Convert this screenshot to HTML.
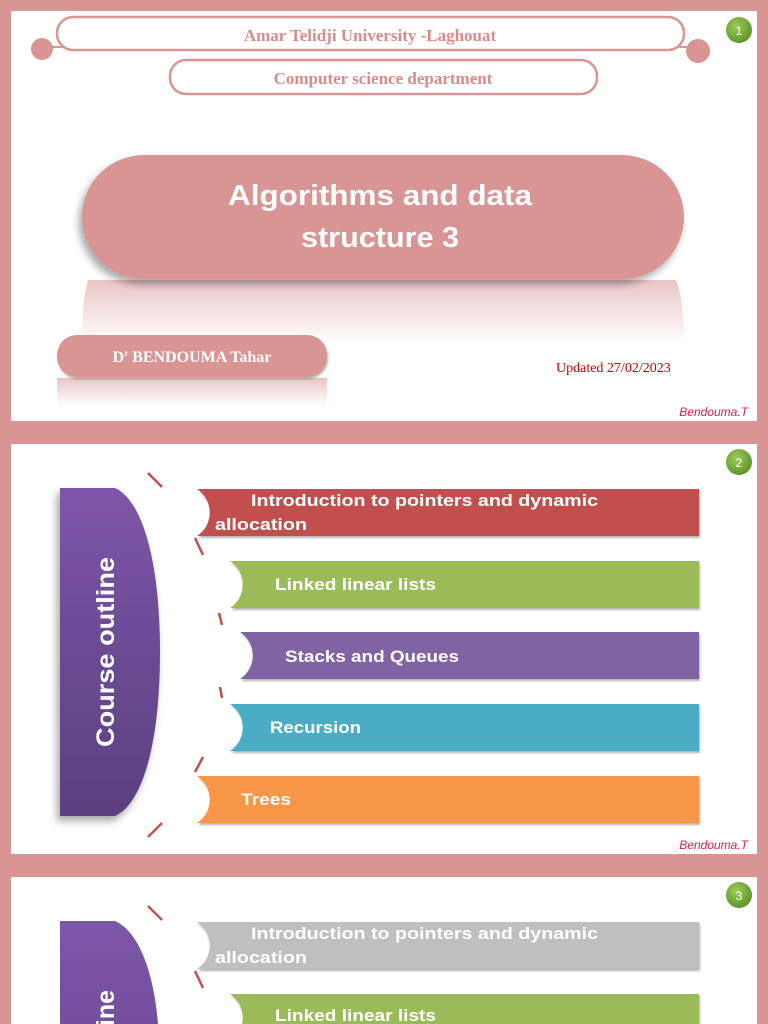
<!DOCTYPE html>
<html><head><meta charset="utf-8"><style>
html,body{margin:0;padding:0;background:#d99594;width:768px;height:1024px;overflow:hidden;}
svg{display:block}
</style></head><body>
<svg width="768" height="1024" viewBox="0 0 768 1024" xmlns="http://www.w3.org/2000/svg">
<defs>
<linearGradient id="pur" x1="0" y1="0" x2="0" y2="1"><stop offset="0" stop-color="#7c56a8"/><stop offset="1" stop-color="#5c3f80"/></linearGradient>
<linearGradient id="pur3" x1="0" y1="0" x2="0" y2="1"><stop offset="0" stop-color="#7c56a8"/><stop offset="1" stop-color="#744f9e"/></linearGradient>
<radialGradient id="grn" cx="0.4" cy="0.35" r="0.7"><stop offset="0" stop-color="#9ccc5a"/><stop offset="1" stop-color="#5a9128"/></radialGradient>
<linearGradient id="refl" x1="0" y1="0" x2="0" y2="1"><stop offset="0" stop-color="#d99494" stop-opacity="0.55"/><stop offset="1" stop-color="#d99494" stop-opacity="0"/></linearGradient>
<filter id="sh" x="-10%" y="-10%" width="130%" height="140%"><feDropShadow dx="-3" dy="5" stdDeviation="4" flood-color="#000" flood-opacity="0.35"/></filter>
<filter id="sh2" x="-5%" y="-10%" width="120%" height="140%"><feDropShadow dx="1" dy="2" stdDeviation="1" flood-color="#000" flood-opacity="0.3"/></filter>
</defs>
<!-- slide 1 -->
<rect x="11" y="11" width="746" height="410" fill="#fff"/>
<circle cx="42" cy="49" r="11" fill="#d99594"/>
<circle cx="698" cy="51" r="12" fill="#d99594"/>
<line x1="50" y1="47" x2="692" y2="47" stroke="#d99594" stroke-width="2"/>
<rect x="57" y="17" width="627" height="33" rx="16" fill="#fff" stroke="#d99594" stroke-width="2.5"/>
<text x="370" y="41" text-anchor="middle" font-family="Liberation Serif, serif" font-weight="bold" font-size="17" fill="#d98b8b">Amar Telidji University -Laghouat</text>
<rect x="170" y="60" width="427" height="34" rx="16" fill="#fff" stroke="#d99594" stroke-width="2.5"/>
<text x="383" y="84" text-anchor="middle" font-family="Liberation Serif, serif" font-weight="bold" font-size="17" fill="#d98b8b">Computer science department</text>
<circle cx="739" cy="30" r="13" fill="url(#grn)"/>
<text x="739" y="35" text-anchor="middle" font-family="Liberation Sans, sans-serif" font-size="12" fill="#fff">1</text>

<path d="M88,280 L676,280 Q684,300 684,345 L82,345 Q82,300 88,280Z" fill="url(#refl)"/>
<rect x="82" y="155" width="602" height="124" rx="62" fill="#d99494" filter="url(#sh)"/>
<text x="380" y="205" text-anchor="middle" font-family="Liberation Sans, sans-serif" font-weight="bold" font-size="29" fill="#fff" textLength="304" lengthAdjust="spacingAndGlyphs">Algorithms and  data</text>
<text x="380" y="247" text-anchor="middle" font-family="Liberation Sans, sans-serif" font-weight="bold" font-size="29" fill="#fff" textLength="158" lengthAdjust="spacingAndGlyphs">structure 3</text>

<rect x="57" y="378" width="270" height="28" fill="url(#refl)"/>
<rect x="57" y="335" width="270" height="42" rx="20" fill="#d99494" filter="url(#sh2)"/>
<text x="192" y="362" text-anchor="middle" font-family="Liberation Serif, serif" font-weight="bold" font-size="16" fill="#fff">D<tspan font-size="9" dy="-6">r</tspan><tspan dy="6"> BENDOUMA Tahar</tspan></text>
<text x="556" y="372" font-family="Liberation Serif, serif" font-size="14" fill="#cc0000">Updated 27/02/2023</text>
<text x="748" y="416" text-anchor="end" font-family="Liberation Sans, sans-serif" font-style="italic" font-size="12" fill="#d6204f">Bendouma.T</text>

<!-- slide 2 -->
<rect x="11" y="444" width="746" height="410" fill="#fff"/>
<circle cx="739" cy="462" r="13" fill="url(#grn)"/>
<text x="739" y="467" text-anchor="middle" font-family="Liberation Sans, sans-serif" font-size="12" fill="#fff">2</text>
<path d="M60,488 L115,488 C142,500 160,560 160,652 C160,745 142,804 115,816 L60,816 Z" fill="url(#pur)" filter="url(#sh)"/>
<text transform="translate(114,652) rotate(-90)" text-anchor="middle" font-family="Liberation Sans, sans-serif" font-weight="bold" font-size="25" fill="#fff" textLength="190" lengthAdjust="spacingAndGlyphs">Course outline</text>
<g stroke="#c0504d" stroke-width="2.5">
  <line x1="148" y1="473" x2="162" y2="487"/><line x1="195" y1="538" x2="203" y2="555"/>
  <line x1="219" y1="613" x2="222" y2="625"/><line x1="220" y1="687" x2="222" y2="698"/>
  <line x1="195" y1="772" x2="203" y2="757"/><line x1="148" y1="837" x2="162" y2="823"/>
</g>
<g filter="url(#sh2)">
<path d="M197,489 L699,489 L699,536 L197,536 A28,28 0 0 0 197,489Z" fill="#c0504d"/>
<path d="M230,561 L699,561 L699,608 L230,608 A28,28 0 0 0 230,561Z" fill="#9bbb59"/>
<path d="M240,632 L699,632 L699,679 L240,679 A28,28 0 0 0 240,632Z" fill="#8064a2"/>
<path d="M230,704 L699,704 L699,751 L230,751 A28,28 0 0 0 230,704Z" fill="#4bacc6"/>
<path d="M197,776 L699,776 L699,823 L197,823 A28,28 0 0 0 197,776Z" fill="#f79646"/>
</g>
<g font-family="Liberation Sans, sans-serif" font-weight="bold" font-size="17" fill="#fff">
<text x="251" y="506" textLength="347" lengthAdjust="spacingAndGlyphs">Introduction to pointers and dynamic</text>
<text x="215" y="530" textLength="92" lengthAdjust="spacingAndGlyphs">allocation</text>
<text x="275" y="590" textLength="161" lengthAdjust="spacingAndGlyphs">Linked linear lists</text>
<text x="285" y="662" textLength="174" lengthAdjust="spacingAndGlyphs">Stacks and Queues</text>
<text x="270" y="733" textLength="91" lengthAdjust="spacingAndGlyphs">Recursion</text>
<text x="241" y="805" textLength="50" lengthAdjust="spacingAndGlyphs">Trees</text>
</g>
<text x="748" y="849" text-anchor="end" font-family="Liberation Sans, sans-serif" font-style="italic" font-size="12" fill="#d6204f">Bendouma.T</text>

<!-- slide 3 -->
<rect x="11" y="877" width="746" height="147" fill="#fff"/>
<circle cx="739" cy="895" r="13" fill="url(#grn)"/>
<text x="739" y="900" text-anchor="middle" font-family="Liberation Sans, sans-serif" font-size="12" fill="#fff">3</text>
<path d="M60,921 L115,921 C140,932 154,975 158,1024 L60,1024 Z" fill="url(#pur3)"/>
<text transform="translate(114,990) rotate(-90)" text-anchor="end" font-family="Liberation Sans, sans-serif" font-weight="bold" font-size="25" fill="#fff">ine</text>
<g stroke="#c0504d" stroke-width="2.5">
  <line x1="148" y1="906" x2="162" y2="920"/><line x1="195" y1="971" x2="203" y2="988"/>
</g>
<g filter="url(#sh2)">
<path d="M197,922 L699,922 L699,969 L197,969 A28,28 0 0 0 197,922Z" fill="#bfbfbf"/>
<path d="M230,994 L699,994 L699,1024 L242,1024 A28,28 0 0 0 230,994Z" fill="#9bbb59"/>
</g>
<g font-family="Liberation Sans, sans-serif" font-weight="bold" font-size="17" fill="#fff">
<text x="251" y="939" textLength="347" lengthAdjust="spacingAndGlyphs">Introduction to pointers and dynamic</text>
<text x="215" y="963" textLength="92" lengthAdjust="spacingAndGlyphs">allocation</text>
<text x="275" y="1021" textLength="161" lengthAdjust="spacingAndGlyphs">Linked linear lists</text>
</g>
</svg>
</body></html>
